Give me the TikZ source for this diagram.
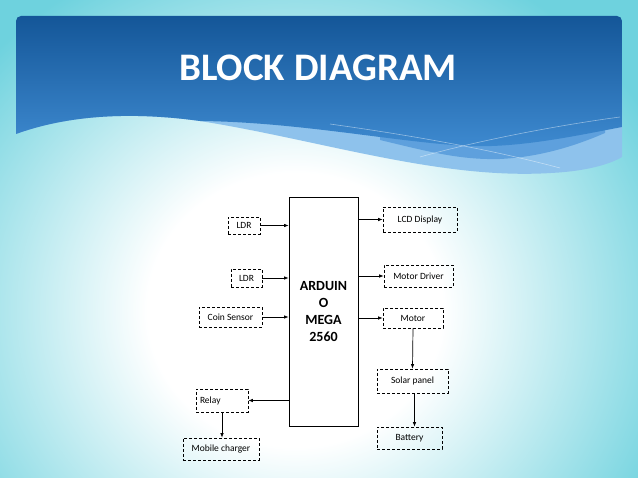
\documentclass[tikz,border=0pt]{standalone}
\usepackage{fontspec}
\setmainfont{Carlito}
\usetikzlibrary{arrows.meta,positioning}
\definecolor{bgCyan}{RGB}{110,210,222}
\definecolor{bannerTop}{RGB}{20,86,152}
\definecolor{bannerBot}{RGB}{62,138,208}
\definecolor{waveLight}{RGB}{142,194,236}
\definecolor{waveMid}{RGB}{82,152,218}
\pgfdeclareradialshading{bgglow}{\pgfpoint{0bp}{0bp}}{color(0bp)=(white); color(9bp)=(white); color(25bp)=(bgCyan); color(50bp)=(bgCyan)}

\begin{document}
\begin{tikzpicture}[x=1pt, y=-1pt,
    block/.style={draw, dash pattern=on 3pt off 2pt, line width=0.7pt, inner sep=0pt,
      font=\fontsize{9.5}{11}\selectfont},
    link/.style={line width=0.7pt, -{Latex[length=4.5pt,width=3.5pt]}}]
  \useasboundingbox (0,0) rectangle (638,478);

  % background glow
  \fill[bgCyan] (0,0) rectangle (638,478);
  \begin{scope}
    \clip (0,0) rectangle (638,478);
    \shade[shading=bgglow] (295,310) ellipse (410 and 380);
  \end{scope}

  % wave bands under the banner
  \fill[waveLight] (16,134) .. controls (60,118) and (120,110) .. (200,121)
    .. controls (320,140) and (440,180) .. (551,173)
    .. controls (590,171) and (612,163) .. (622,157) -- (622,100) -- (16,100) -- cycle;
  \fill[waveMid, opacity=0.8] (380,140) .. controls (430,152) and (460,160) .. (500,159)
    .. controls (540,157) and (575,146) .. (605,133) -- (605,110) -- (380,110) -- cycle;

  % banner
  \shade[top color=bannerTop, bottom color=bannerBot]
    (16,134) -- (16,21) arc (180:270:5) -- (617,16) arc (270:360:5) -- (622,127)
    .. controls (580,135) and (520,148) .. (470,146)
    .. controls (400,143) and (300,122) .. (200,121)
    .. controls (120,110) and (60,118) .. (16,134) -- cycle;
  \draw[white, opacity=0.45, line width=0.6pt] (330,124) .. controls (430,138) and (500,152) .. (560,168);
  \draw[white, opacity=0.45, line width=0.6pt] (420,157) .. controls (480,140) and (560,125) .. (620,117);

  \node[text=white, font=\fontsize{39}{44}\selectfont\bfseries] (title) at (318,68) {BLOCK DIAGRAM};

  % controller
  \node[draw, line width=0.8pt, fill=white, minimum width=69pt, minimum height=229pt, align=center,
    font=\fontsize{14}{17}\selectfont\bfseries] (ard) at (323.5,311.5) {ARDUIN\\O\\MEGA\\2560};

  % inputs
  \node[block, minimum width=32pt, minimum height=17pt] (ldrA) at (244,225.5) {LDR};
  \node[block, minimum width=31pt, minimum height=18pt] (ldrB) at (246.5,278) {LDR};
  \node[block, minimum width=63pt, minimum height=20pt] (coin) at (230.5,317) {Coin Sensor};

  % outputs
  \node[block, minimum width=74pt, minimum height=25pt] (lcd) at (420,219.5) {LCD Display};
  \node[block, minimum width=69pt, minimum height=22pt] (drv) at (418.5,276) {Motor Driver};
  \node[block, minimum width=60pt, minimum height=20pt] (motor) at (413,318) {Motor};
  \node[block, minimum width=71pt, minimum height=24pt] (solar) at (412.5,381) {Solar panel};
  \node[block, minimum width=65pt, minimum height=22pt] (batt) at (409.5,438) {Battery};
  \node[block, minimum width=52pt, minimum height=23pt, text width=44pt, align=left] (relay) at (222,400.5) {Relay};
  \node[block, minimum width=76pt, minimum height=22pt] (mob) at (221,449) {Mobile charger};

  \draw[link] (ldrA.east) -- (ldrA.east -| ard.west);
  \draw[link] (ldrB.east) -- (ldrB.east -| ard.west);
  \draw[link] (coin.east) -- (coin.east -| ard.west);
  \draw[link] (lcd.west -| ard.east) -- (lcd.west);
  \draw[link] (drv.west -| ard.east) -- (drv.west);
  \draw[link] (motor.west -| ard.east) -- (motor.west);
  \draw[link] (motor.south) -- (solar.north);
  \draw[link] ([xshift=2pt]solar.south) -- ([xshift=2pt]solar.south |- batt.north);
  \draw[link] (relay.east -| ard.west) -- (relay.east);
  \draw[link] (relay.south) -- (relay.south |- mob.north);
\end{tikzpicture}
\end{document}
